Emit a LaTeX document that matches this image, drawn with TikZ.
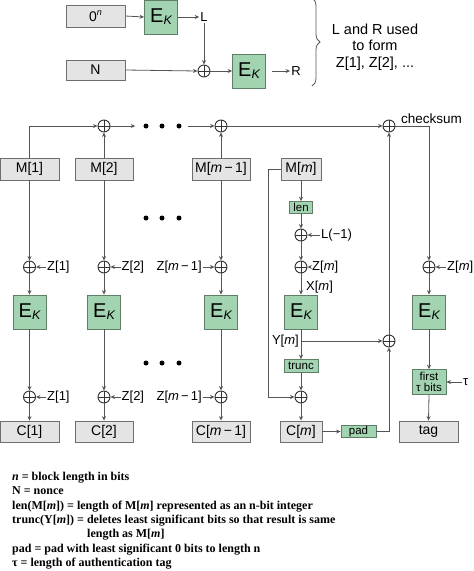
\documentclass[tikz,border=0pt]{standalone}
\usepackage{fontspec}
\setmainfont{Liberation Serif}
\newfontfamily\dsans{Liberation Sans}
\usetikzlibrary{arrows.meta,decorations.pathreplacing,calc}
\definecolor{linec}{HTML}{555555}
\definecolor{grayfill}{HTML}{E4E4E4}
\definecolor{grayedge}{HTML}{6E6E6E}
\definecolor{greenfill}{HTML}{A3D4B2}
\definecolor{greenedge}{HTML}{5E7E68}
\newcommand{\EK}{{\fontsize{20}{20}\selectfont E}\raisebox{-0.4ex}{\fontsize{12.5}{12.5}\selectfont\itshape K}}
\begin{document}
\begin{tikzpicture}[x=1pt,y=-1pt,
 every node/.style={font=\dsans},
 graybox/.style={draw=grayedge, fill=grayfill, line width=0.8pt, minimum height=22pt, inner sep=0pt, font=\dsans\fontsize{14}{14}\selectfont},
 ekbox/.style={draw=greenedge, fill=greenfill, line width=0.8pt, minimum width=33pt, minimum height=34pt, inner sep=0pt},
 smallgreen/.style={draw=greenedge, fill=greenfill, line width=0.7pt, inner sep=0pt, font=\dsans\fontsize{11.5}{11.5}\selectfont},
 xor/.style={circle, draw=black!80, line width=0.9pt, minimum size=12pt, inner sep=0pt,
   path picture={\draw[black!80, line width=0.9pt] (path picture bounding box.north) -- (path picture bounding box.south) (path picture bounding box.west) -- (path picture bounding box.east);}},
 lbl/.style={font=\dsans\fontsize{13}{13}\selectfont, inner sep=1pt},
 conn/.style={draw=linec, line width=0.8pt, -{Stealth[length=4.5pt,width=4pt]}},
 wire/.style={draw=linec, line width=0.8pt},
 dotn/.style={circle, fill=black, inner sep=0pt, minimum size=5pt},
]
\useasboundingbox (0,0) rectangle (474,571);

% ---------- top: L and R ----------
\node[graybox, minimum width=59pt] (zero) at (95.5,16) {0\raisebox{0.8ex}{\fontsize{9}{9}\selectfont\itshape n}};
\node[ekbox] (ek0) at (161,17) {\EK};
\node[lbl] (Lt) at (204,17) {L};
\node[graybox, minimum width=59pt, minimum height=20pt] (nonce) at (95.5,70) {N};
\node[xor] (xN) at (204,71) {};
\node[ekbox] (ek1) at (249,71) {\EK};
\node[lbl] (Rt) at (296,71) {R};
\node[font=\dsans\fontsize{14.5}{16.5}\selectfont, align=center] (brtext) at (375,47) {L and R used\\to form\\Z[1], Z[2], ...};
\draw[wire, decorate, decoration={brace, amplitude=8pt}] (312,-2) -- (312,86);

\draw[conn] (zero.east) -- (ek0.west);
\draw[conn] (ek0.east) -- (Lt.west);
\draw[conn] (Lt.south) -- (xN.north);
\draw[conn] (nonce.east) -- (xN.west);
\draw[conn] (xN.east) -- (ek1.west);
\draw[conn, shorten <=6pt] (ek1.east) -- (Rt.west);

% ---------- message blocks ----------
\node[graybox, minimum width=59pt] (m1) at (29.5,169) {M[1]};
\node[graybox, minimum width=58pt] (m2) at (104,169) {M[2]};
\node[graybox, minimum width=58pt] (m3) at (221,169) {M[\textit{m}\,−\,1]};
\node[graybox, minimum width=40pt] (mm) at (301,169) {M[\textit{m}]};

% top checksum row
\node[xor] (xT2) at (104,126) {};
\node[xor] (xT3) at (221,126) {};
\node[xor] (xCS) at (389,126) {};
\node[lbl, anchor=west, font=\dsans\fontsize{13.5}{14}\selectfont] (cks) at (400,119) {checksum};
\node[dotn] (dT1) at (146,126) {};
\node[dotn] (dT2) at (162,126) {};
\node[dotn] (dT3) at (179,126) {};

% middle dots
\node[dotn] (dM1) at (146,218) {};
\node[dotn] (dM2) at (162,218) {};
\node[dotn] (dM3) at (179,218) {};
\node[dotn] (dL1) at (146,363) {};
\node[dotn] (dL2) at (162,363) {};
\node[dotn] (dL3) at (179,363) {};

% column 1
\node[xor] (xa1) at (29.5,267) {};
\node[ekbox] (e1) at (29.5,312) {\EK};
\node[xor] (xb1) at (29.5,397) {};
\node[graybox, minimum width=59pt, minimum height=21pt] (c1) at (29.5,431.5) {C[1]};
\node[lbl, anchor=west] (za1) at (46,267) {Z[1]};
\node[lbl, anchor=west] (zb1) at (46,397) {Z[1]};

% column 2
\node[xor] (xa2) at (104,267) {};
\node[ekbox] (e2) at (104,312) {\EK};
\node[xor] (xb2) at (104,397) {};
\node[graybox, minimum width=58pt, minimum height=21pt] (c2) at (104,431.5) {C[2]};
\node[lbl, anchor=west] (za2) at (120.5,267) {Z[2]};
\node[lbl, anchor=west] (zb2) at (120.5,397) {Z[2]};

% column 3
\node[xor] (xa3) at (221,267) {};
\node[ekbox] (e3) at (221,312) {\EK};
\node[xor] (xb3) at (221,397) {};
\node[graybox, minimum width=58pt, minimum height=21pt] (c3) at (221,431.5) {C[\textit{m}\,−\,1]};
\node[lbl, anchor=east] (za3) at (203,267) {Z[\textit{m}\,−\,1]};
\node[lbl, anchor=east] (zb3) at (203,397) {Z[\textit{m}\,−\,1]};

% column m
\node[smallgreen, minimum width=23pt, minimum height=12pt] (len) at (301,207.5) {len};
\node[xor] (xL) at (301,235) {};
\node[lbl, anchor=west] (lm1) at (320,235) {L(−1)};
\node[xor] (xZm) at (301,267) {};
\node[lbl, anchor=west] (zm) at (311,267) {Z[\textit{m}]};
\node[lbl, anchor=west] (xm) at (305,287) {X[\textit{m}]};
\node[ekbox] (em) at (301,312) {\EK};
\coordinate (yj) at (301,341);
\node[lbl, anchor=east] (ym) at (300,341) {Y[\textit{m}]};
\node[smallgreen, minimum width=34pt, minimum height=13pt] (trunc) at (301,366) {trunc};
\node[xor] (xC) at (301,397) {};
\node[graybox, minimum width=42pt, minimum height=21pt] (cm) at (301,431.5) {C[\textit{m}]};
\node[smallgreen, minimum width=35pt, minimum height=12.5pt] (pad) at (358.5,431.5) {pad};
\node[xor] (xY) at (389,341) {};

% tag column
\node[xor] (xTag) at (429,267) {};
\node[lbl, anchor=west] (zmt) at (446,267) {Z[\textit{m}]};
\node[ekbox] (et) at (429,312) {\EK};
\node[smallgreen, minimum width=34pt, minimum height=25pt, align=center, font=\dsans\fontsize{11.5}{11}\selectfont] (first) at (429,382) {first\\τ bits};
\node[lbl, anchor=west] (tau) at (462,382) {τ};
\node[graybox, minimum width=59pt, minimum height=21pt] (tag) at (428.5,431.5) {tag};

% ---------- connectors ----------
\draw[conn] (m1.north) |- (xT2.west);
\draw[conn] (m2.north) -- (xT2.south);
\draw[conn, shorten >=8pt] (xT2.east) -- (dT1.west);
\draw[conn, shorten <=6pt] (dT3.east) -- (xT3.west);
\draw[conn] (m3.north) -- (xT3.south);
\draw[conn] (xT3.east) -- (xCS.west);
\draw[conn] (xCS.east) -| (xTag.north);

\draw[conn] (m1.south) -- (xa1.north);
\draw[conn] (xa1.south) -- (e1.north);
\draw[conn] (e1.south) -- (xb1.north);
\draw[conn] (xb1.south) -- (c1.north);
\draw[conn] (za1.west) -- (xa1.east);
\draw[conn] (zb1.west) -- (xb1.east);

\draw[conn] (m2.south) -- (xa2.north);
\draw[conn] (xa2.south) -- (e2.north);
\draw[conn] (e2.south) -- (xb2.north);
\draw[conn] (xb2.south) -- (c2.north);
\draw[conn] (za2.west) -- (xa2.east);
\draw[conn] (zb2.west) -- (xb2.east);

\draw[conn] (m3.south) -- (xa3.north);
\draw[conn] (xa3.south) -- (e3.north);
\draw[conn] (e3.south) -- (xb3.north);
\draw[conn] (xb3.south) -- (c3.north);
\draw[conn] (za3.east) -- (xa3.west);
\draw[conn] (zb3.east) -- (xb3.west);

\draw[conn] (mm.south) -- (len.north);
\draw[conn] (len.south) -- (xL.north);
\draw[conn] (lm1.west) -- (xL.east);
\draw[conn] (xL.south) -- (xZm.north);
\draw[conn] (zm.west) -- (xZm.east);
\draw[conn] (xZm.south) -- (em.north);
\draw[conn] (em.south) -- (trunc.north);
\draw[conn] (yj) -- (xY.west);
\draw[conn] (trunc.south) -- (xC.north);
\draw[conn] (mm.west) -- ++(-12,0) |- (xC.west);
\draw[conn] (xC.south) -- (cm.north);
\draw[conn] (cm.east) -- (pad.west);
\draw[conn] (pad.east) -| (xY.south);
\draw[conn] (xY.north) -- (xCS.south);

\draw[conn] (zmt.west) -- (xTag.east);
\draw[conn] (xTag.south) -- (et.north);
\draw[conn] (et.south) -- (first.north);
\draw[conn] (tau.west) -- (first.east);
\draw[conn] (first.south) -- (tag.north);

% ---------- legend ----------
\node[anchor=north west, align=left, inner sep=0pt, font=\rmfamily\bfseries\fontsize{12}{14.3}\selectfont] (legend) at (12,472) {\textit{n} = block length in bits\\
N = nonce\\
len(M[\textit{m}]) = length of M[\textit{m}] represented as an n-bit integer\\
trunc(Y[\textit{m}]) = deletes least significant bits so that result is same\\
\hspace*{75pt}length as M[\textit{m}]\\
pad = pad with least significant 0 bits to length n\\
τ = length of authentication tag};
\end{tikzpicture}
\end{document}
